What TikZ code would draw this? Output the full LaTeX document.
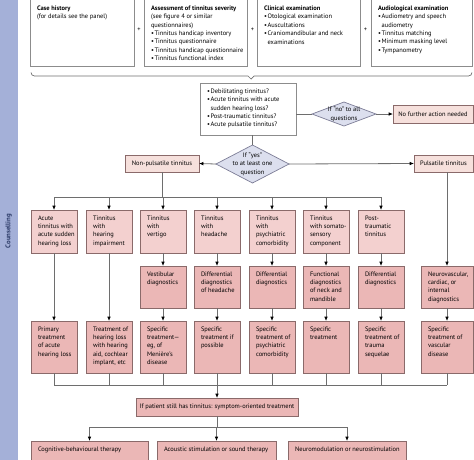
\documentclass[tikz,border=0pt]{standalone}
\usepackage{fontspec}
\setmainfont{PT Sans}
\usetikzlibrary{arrows.meta,shapes.geometric}
\definecolor{barc}{HTML}{A4B0D8}
\definecolor{cnslc}{HTML}{2B3A67}
\definecolor{pinkL}{HTML}{F6E0DC}
\definecolor{pinkA}{HTML}{F3D0CF}
\definecolor{pinkB}{HTML}{EBB7B6}
\definecolor{pinkD}{HTML}{8A6A6A}
\definecolor{diaF}{HTML}{DCDFEE}
\definecolor{diaD}{HTML}{7C7C96}
\definecolor{topc}{HTML}{8C8C8C}
\definecolor{linec}{HTML}{6E6E6E}
\newcommand\tb[4][5.5pt]{\parbox[t][#3][t]{#2}{\vspace*{#1}\raggedright\leftskip=7pt\rightskip=-20pt plus 1fil\relax #4\par}}
\newcommand\bu{\makebox[3.6pt][l]{\textbullet}}
\newcommand\bi{\hspace*{3.6pt}}
\begin{document}
\begin{tikzpicture}[x=1pt,y=-1pt,
  every node/.style={font=\fontsize{6.45}{8.4}\selectfont, inner sep=0pt, outer sep=0pt},
  topbox/.style={draw=topc, line width=0.7pt, fill=white, anchor=north west},
  pkl/.style={draw=pinkD, line width=0.7pt, fill=pinkL, anchor=north west, align=center},
  pka/.style={draw=pinkD, line width=0.7pt, fill=pinkA, anchor=north west},
  pkb/.style={draw=pinkD, line width=0.7pt, fill=pinkB, anchor=north west},
  dia/.style={diamond, draw=diaD, fill=diaF, line width=0.7pt},
  conn/.style={draw=linec, line width=0.8pt},
  arr/.style={conn, -{Latex[length=4.3pt,width=3.6pt,color=black]}}]
\useasboundingbox (0,0) rectangle (474,459);
\clip (0,0) rectangle (474,459);
% left bar
\fill[barc] (0,-2) rectangle (17.5,461);
\node[rotate=90, font=\fontsize{6.8}{8}\selectfont\bfseries, text=cnslc] (cn) at (8.6,231) {Counselling};
% top boxes
\node[topbox] (t1) at (30,-1.5) {\tb[7.3pt]{104pt}{67.5pt}{\textbf{Case history}\\(for details see the panel)}};
\node[topbox] (t2) at (144,-1.5) {\tb[7.3pt]{103pt}{67.5pt}{\textbf{Assessment of tinnitus severity}\\(see figure 4 or similar\\questionnaires)\\\bu Tinnitus handicap inventory\\\bu Tinnitus questionnaire\\\bu Tinnitus handicap questionnaire\\\bu Tinnitus functional index}};
\node[topbox] (t3) at (257,-1.5) {\tb[7.3pt]{103pt}{67.5pt}{\textbf{Clinical examination}\\\bu Otological examination\\\bu Auscultations\\\bu Craniomandibular and neck\\\bi examinations}};
\node[topbox] (t4) at (371,-1.5) {\tb[7.3pt]{101.5pt}{67.5pt}{\textbf{Audiological examination}\\\bu Audiometry and speech\\\bi audiometry\\\bu Tinnitus matching\\\bu Minimum masking level\\\bu Tympanometry}};
\node (p1) at (139,30) {+};
\node (p2) at (252.5,30) {+};
\node (p3) at (365.5,30) {+};
% brace
\draw[conn, line width=0.7pt] (31,72.5) to[out=-90,in=180] (34.5,76) -- (248,76) -- (251,79) -- (254,76) -- (468.5,76) to[out=0,in=-90] (472,72.5);
% question box
\node[topbox] (q) at (200,83) {\tb[5.8pt]{96pt}{52pt}{\bu Debilitating tinnitus?\\\bu Acute tinnitus with acute\\\bi sudden hearing loss?\\\bu Post-traumatic tinnitus?\\\bu Acute pulsatile tinnitus?}};
\node[dia, minimum width=64pt, minimum height=24pt, label={[align=center]center:If “no” to all\\questions}] (d1) at (344,114) {};
\node[pkl, minimum width=80pt, minimum height=18pt] (nf) at (393,105) {No further action needed};
\node[dia, minimum width=73pt, minimum height=38pt, label={[align=center]center:If “yes”\\to at least one\\question}] (d2) at (252.5,164) {};
\node[pkl, minimum width=74pt, minimum height=17pt] (np) at (125,155) {Non-pulsatile tinnitus};
\node[pkl, minimum width=59pt, minimum height=17pt] (pu) at (414,155) {Pulsatile tinnitus};
% row 1
\node[pka] (a1) at (31,210) {\tb{46pt}{43pt}{Acute\\tinnitus with\\acute sudden\\hearing loss}};
\node[pka] (a2) at (86,210) {\tb{46pt}{43pt}{Tinnitus\\with\\hearing\\impairment}};
\node[pka] (a3) at (140,210) {\tb{46pt}{43pt}{Tinnitus\\with\\vertigo}};
\node[pka] (a4) at (194,210) {\tb{46pt}{43pt}{Tinnitus\\with\\headache}};
\node[pka] (a5) at (249,210) {\tb{46pt}{43pt}{Tinnitus\\with\\psychiatric\\comorbidity}};
\node[pka] (a6) at (303,210) {\tb{46pt}{43pt}{Tinnitus\\with somato-\\sensory\\component}};
\node[pka] (a7) at (358,210) {\tb{46pt}{43pt}{Post-\\traumatic\\tinnitus}};
% row 2
\node[pkb] (b3) at (140,266) {\tb{46pt}{42pt}{Vestibular\\diagnostics}};
\node[pkb] (b4) at (194,266) {\tb{46pt}{42pt}{Differential\\diagnostics\\of headache}};
\node[pkb] (b5) at (249,266) {\tb{46pt}{42pt}{Differential\\diagnostics}};
\node[pkb] (b6) at (303,266) {\tb{46pt}{42pt}{Functional\\diagnostics\\of neck and\\mandible}};
\node[pkb] (b7) at (358,266) {\tb{46pt}{42pt}{Differential\\diagnostics}};
\node[pkb] (b8) at (421,266) {\tb{52pt}{42pt}{Neurovascular,\\cardiac, or\\internal\\diagnostics}};
% row 3
\node[pkb] (c1) at (31,321) {\tb{46pt}{52pt}{Primary\\treatment\\of acute\\hearing loss}};
\node[pkb] (c2) at (86,321) {\tb{46pt}{52pt}{Treatment of\\hearing loss\\with hearing\\aid, cochlear\\implant, etc}};
\node[pkb] (c3) at (140,321) {\tb{46pt}{52pt}{Specific\\treatment—\\eg, of\\Menière’s\\disease}};
\node[pkb] (c4) at (194,321) {\tb{46pt}{52pt}{Specific\\treatment if\\possible}};
\node[pkb] (c5) at (249,321) {\tb{46pt}{52pt}{Specific\\treatment of\\psychiatric\\comorbidity}};
\node[pkb] (c6) at (303,321) {\tb{46pt}{52pt}{Specific\\treatment}};
\node[pkb] (c7) at (358,321) {\tb{46pt}{52pt}{Specific\\treatment of\\trauma\\sequelae}};
\node[pkb] (c8) at (421,321) {\tb{52pt}{52pt}{Specific\\treatment of\\vascular\\disease}};
% symptom box
\node[pkb, align=center, minimum width=162pt, minimum height=18pt] (sy) at (136,398) {If patient still has tinnitus: symptom-oriented treatment};
% bottom
\node[pkb] (e1) at (31,441) {\tb{117pt}{20pt}{Cognitive-behavioural therapy}};
\node[pkb] (e2) at (157,441) {\tb{119pt}{20pt}{Acoustic stimulation or sound therapy}};
\node[pkb] (e3) at (288,441) {\tb{118pt}{20pt}{Neuromodulation or neurostimulation}};
% coordinates
\coordinate (bus1) at (0,197);
\coordinate (bus2) at (0,385);
\coordinate (bus3) at (0,427);
% connectors
\draw[conn] (q.east |- d1.west) -- (d1.west);
\draw[arr] (d1.east) -- (nf.west);
\draw[conn] (d2.north |- q.south) -- (d2.north);
\draw[arr] (d2.west) -- (np.east);
\draw[arr] (d2.east) -- (pu.west);
\draw[conn] (np.south) -- (np.south |- bus1);
\draw[conn] (a1.north |- bus1) -- (a7.north |- bus1);
\foreach \n in {a1,a2,a3,a4,a5,a6,a7} \draw[arr] (\n.north |- bus1) -- (\n.north);
\draw[arr] (b8.north |- pu.south) -- (b8.north);
\draw[arr] (a1.south) -- (c1.north);
\draw[arr] (a2.south) -- (c2.north);
\foreach \i in {3,4,5,6,7} \draw[arr] (a\i.south) -- (b\i.north);
\foreach \i in {3,4,5,6,7,8} \draw[arr] (b\i.south) -- (c\i.north);
\foreach \i in {1,2,3,4,5,6,7,8} \draw[conn] (c\i.south) -- (c\i.south |- bus2);
\draw[conn] (c1.south |- bus2) -- (c8.south |- bus2);
\draw[arr] (sy.north |- bus2) -- (sy.north);
\draw[conn] (sy.south) -- (sy.south |- bus3);
\draw[conn] (e1.north |- bus3) -- (e3.north |- bus3);
\foreach \n in {e1,e2,e3} \draw[arr] (\n.north |- bus3) -- (\n.north);
\end{tikzpicture}
\end{document}
